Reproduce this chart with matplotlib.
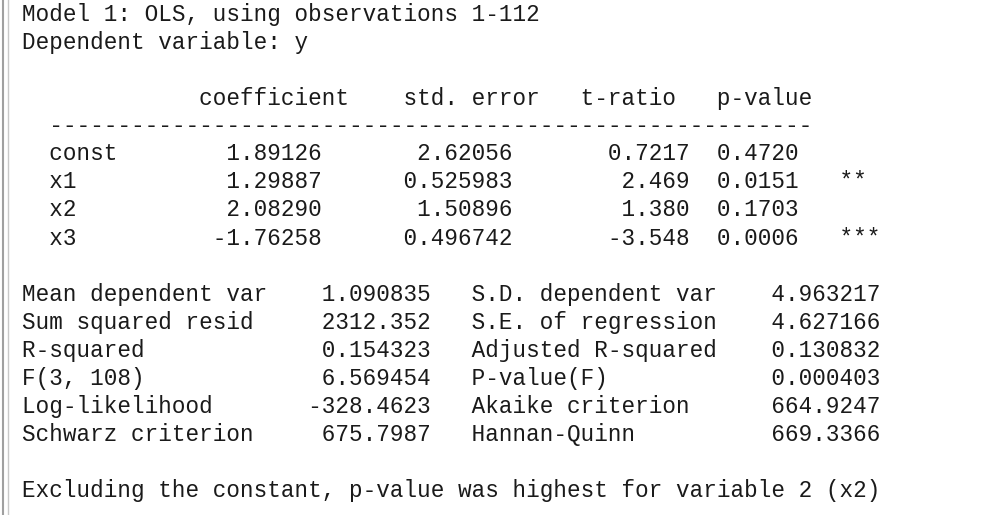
import matplotlib
matplotlib.use("Agg")
import matplotlib.pyplot as plt
from matplotlib.lines import Line2D

# regression table values
names = ["const", "x1", "x2", "x3"]
coefs = ["1.89126", "1.29887", "2.08290", "-1.76258"]
std_errs = ["2.62056", "0.525983", "1.50896", "0.496742"]
t_ratios = ["0.7217", "2.469", "1.380", "-3.548"]
p_values = ["0.4720", "0.0151", "0.1703", "0.0006"]
stars = ["", "**", "", "***"]

stat_left = ["Mean dependent var", "Sum squared resid", "R-squared",
             "F(3, 108)", "Log-likelihood", "Schwarz criterion"]
stat_left_vals = ["1.090835", "2312.352", "0.154323",
                  "6.569454", "-328.4623", "675.7987"]
stat_right = ["S.D. dependent var", "S.E. of regression", "Adjusted R-squared",
              "P-value(F)", "Akaike criterion", "Hannan-Quinn"]
stat_right_vals = ["4.963217", "4.627166", "0.130832",
                   "0.000403", "664.9247", "669.3366"]

lines = ["Model 1: OLS, using observations 1-112",
         "Dependent variable: y",
         "",
         " " * 13 + "coefficient    std. error   t-ratio   p-value",
         "  " + "-" * 56]
for n, c, s, t, p, st in zip(names, coefs, std_errs, t_ratios, p_values, stars):
    row = f"  {n:<8}{c:>12}{s:>14}{t:>13}{p:>8}"
    if st:
        row += "   " + st
    lines.append(row)
lines.append("")
for a, av, b, bv in zip(stat_left, stat_left_vals, stat_right, stat_right_vals):
    lines.append(f"{a:<18}{av:>12}   {b:<20}{bv:>10}")
lines.append("")
lines.append("Excluding the constant, p-value was highest for variable 2 (x2)")

W, H = 984, 515
fig = plt.figure(figsize=(W / 100, H / 100), dpi=100)
fig.patch.set_facecolor("white")

# window border on the left
fig.add_artist(Line2D([3 / W, 3 / W], [0, 1], color="#a0a0a0", lw=1.5))
fig.add_artist(Line2D([8 / W, 8 / W], [0, 1], color="#c8c8c8", lw=1))

for i, line in enumerate(lines):
    if not line:
        continue
    y = 14 + 28 * i
    fig.text(22 / W, 1 - y / H, line, family="Liberation Mono", fontsize=16.3,
             color="#1a1a1a", ha="left", va="center")

fig.savefig("out.png", dpi=100)
